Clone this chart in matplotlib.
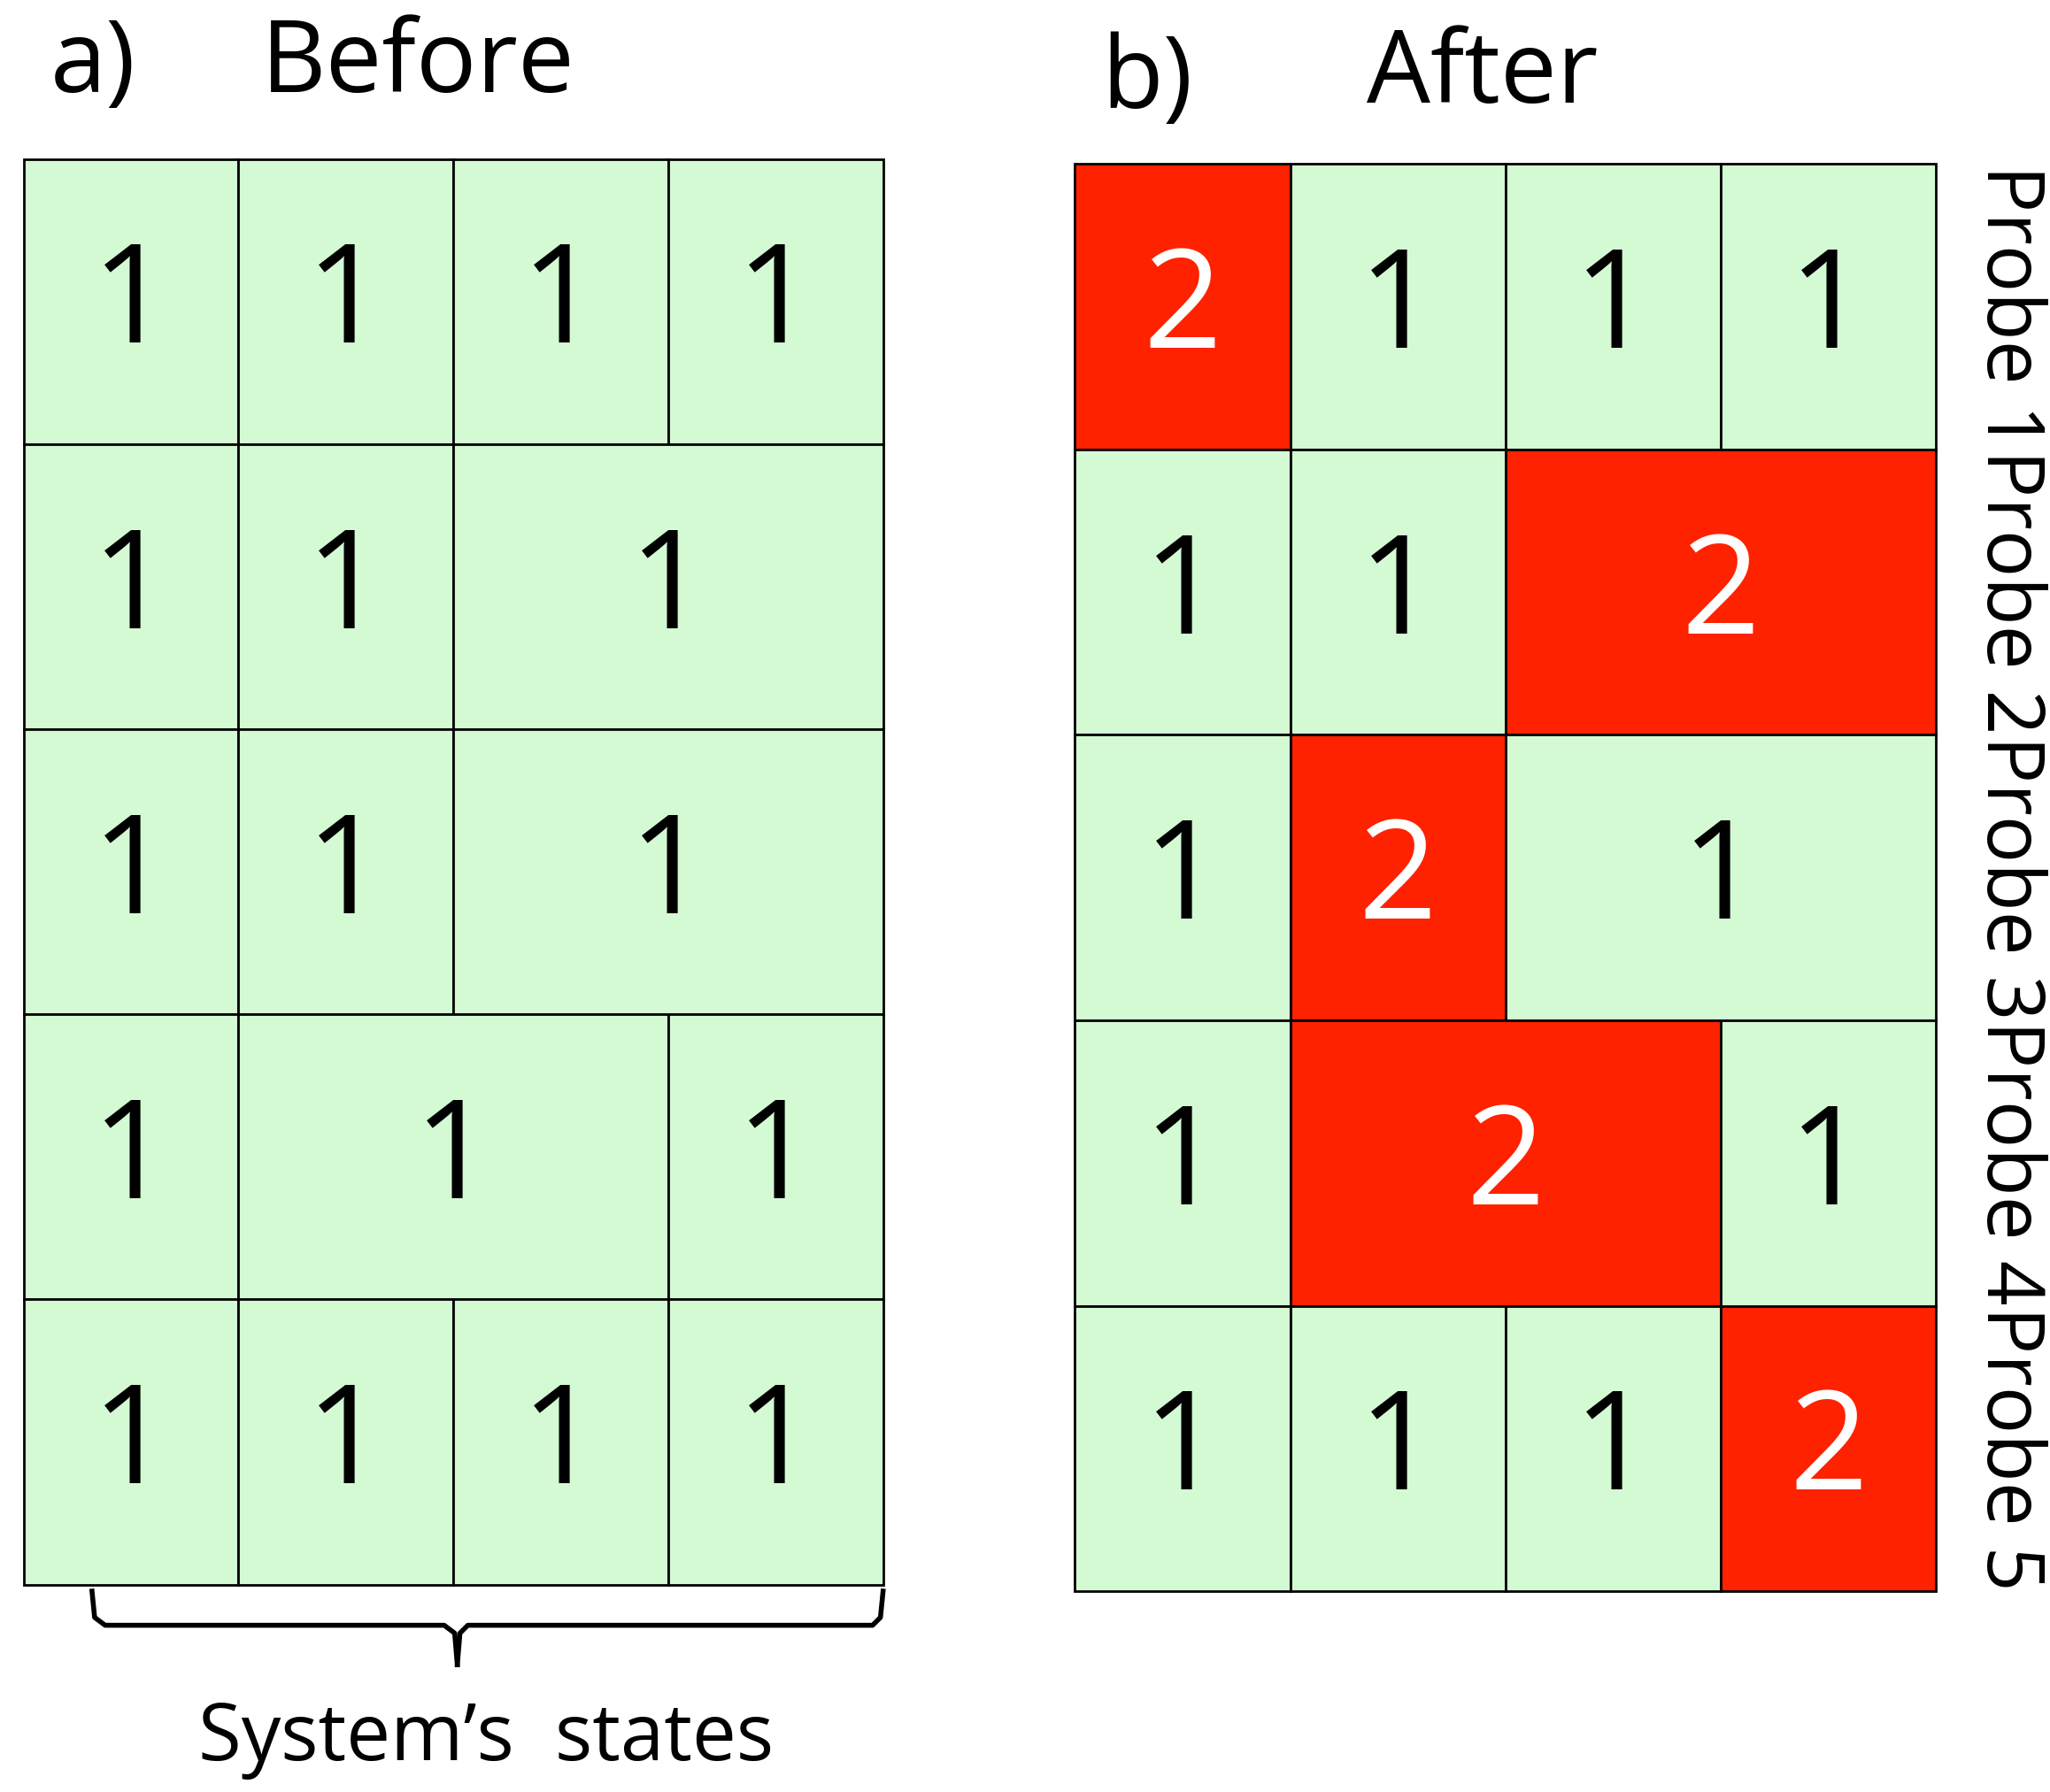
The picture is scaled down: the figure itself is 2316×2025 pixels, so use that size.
import matplotlib

matplotlib.use("Agg")
import matplotlib.pyplot as plt

plt.rcParams["font.family"] = ["Open Sans", "DejaVu Sans"]

# each row: list of column spans (in units of 4 columns) and the value in each cell
BEFORE_SPANS = [[1, 1, 1, 1], [1, 1, 2], [1, 1, 2], [1, 2, 1], [1, 1, 1, 1]]
BEFORE_VALS = [[1, 1, 1, 1], [1, 1, 1], [1, 1, 1], [1, 1, 1], [1, 1, 1, 1]]
AFTER_SPANS = [[1, 1, 1, 1], [1, 1, 2], [1, 1, 2], [1, 2, 1], [1, 1, 1, 1]]
AFTER_VALS = [[2, 1, 1, 1], [1, 1, 2], [1, 2, 1], [1, 2, 1], [1, 1, 1, 2]]
PROBES = ["Probe 1", "Probe 2", "Probe 3", "Probe 4", "Probe 5"]

GREEN = "#d4fad4"
RED = "#ff2200"
S = 2316 / 1560  # drawing in reference display units, scaled to pixels

fig = plt.figure(figsize=(23.16, 20.25), dpi=100)
ax = fig.add_axes([0, 0, 1, 1])
ax.set_xlim(0, 1560)
ax.set_ylim(1365, 0)
ax.axis("off")


def grid(x0, y0, cw, rh, spans, vals):
    for r, (row, rv) in enumerate(zip(spans, vals)):
        c = 0
        for sp, v in zip(row, rv):
            x = x0 + c * cw
            y = y0 + r * rh
            ax.add_patch(plt.Rectangle((x, y), sp * cw, rh, facecolor=RED if v == 2 else GREEN,
                                       edgecolor="black", linewidth=2))
            ax.text(x + sp * cw / 2, y + rh / 2 + 4, str(v), ha="center", va="center",
                    fontsize=112, color="white" if v == 2 else "black")
            c += sp


grid(18, 121, 163.5, 217.2, BEFORE_SPANS, BEFORE_VALS)
grid(818, 125, 163.8, 217.4, AFTER_SPANS, AFTER_VALS)

ax.text(38, 50, "a)", fontsize=82, va="center", ha="left")
ax.text(318, 50, "Before", fontsize=82, va="center", ha="center")
ax.text(838, 62, "b)", fontsize=82, va="center", ha="left")
ax.text(1128, 58, "After", fontsize=82, va="center", ha="center")

for i, p in enumerate(PROBES):
    ax.text(1528, 125 + 217.4 * (i + 0.5), p, rotation=-90, fontsize=64,
            ha="center", va="center")

# brace under panel a
bx = [70, 72, 80, 338, 346, 348, 348, 350, 356, 664, 670, 672]
by = [1212, 1232, 1238, 1238, 1244, 1268, 1268, 1244, 1238, 1238, 1232, 1212]
ax.plot(bx[:6], by[:6], color="black", lw=4, solid_joinstyle="round")
ax.plot(bx[6:], by[6:], color="black", lw=4, solid_joinstyle="round")
ax.text(370, 1325, "System\u2019s  states", fontsize=64, ha="center", va="center")

fig.savefig("out.png", dpi=100)
